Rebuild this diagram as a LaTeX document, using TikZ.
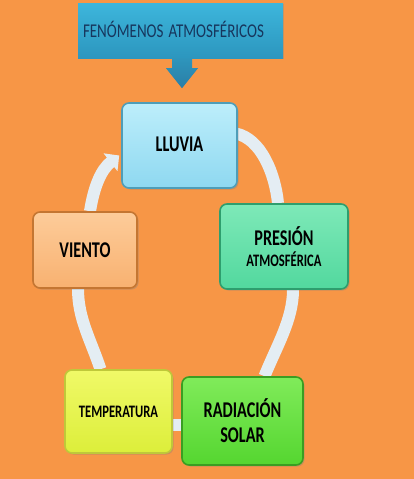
\documentclass[tikz,border=0pt]{standalone}
\usepackage{fontspec}
\setmainfont{Carlito}
\usetikzlibrary{arrows.meta,calc,shadows}
\pgfdeclarelayer{bg}
\pgfsetlayers{bg,main}
\newcommand{\hsq}[2][0.72]{\scalebox{#1}[1]{#2}}
\definecolor{bgc}{HTML}{F79646}
\definecolor{titleT}{HTML}{3DB6DC}
\definecolor{titleB}{HTML}{2C96BE}
\definecolor{arrT}{HTML}{2E95BC}
\definecolor{arrB}{HTML}{2A7EA6}
\definecolor{titletext}{HTML}{17365D}
\definecolor{ringc}{HTML}{E4EDF3}
\definecolor{lluT}{HTML}{BDEEFB}
\definecolor{lluB}{HTML}{8ED8F0}
\definecolor{lluD}{HTML}{4E9DB8}
\definecolor{preT}{HTML}{7EE9B8}
\definecolor{preB}{HTML}{52D89E}
\definecolor{preD}{HTML}{2E9E6E}
\definecolor{vieT}{HTML}{FDCC9A}
\definecolor{vieB}{HTML}{F8B170}
\definecolor{vieD}{HTML}{C47632}
\definecolor{temT}{HTML}{F0F968}
\definecolor{temB}{HTML}{DCEE3A}
\definecolor{temD}{HTML}{BFC83A}
\definecolor{radT}{HTML}{80EB5A}
\definecolor{radB}{HTML}{55D630}
\definecolor{radD}{HTML}{3A9E22}
\tikzset{
  box/.style={rectangle, rounded corners=7pt, line width=1.6pt, align=center,
    text=black, inner sep=2pt,
    drop shadow={opacity=0.35, shadow xshift=1.5pt, shadow yshift=-1.5pt}},
  ring/.style={line width=12pt, draw=ringc},
  titlebox/.style={rectangle, top color=titleT, bottom color=titleB, text=titletext,
    align=left, inner xsep=5pt, inner ysep=0pt,
    drop shadow={opacity=0.25, shadow xshift=1pt, shadow yshift=-1pt}},
}
\begin{document}
\begin{tikzpicture}[x=1pt,y=-1pt]
\useasboundingbox (0,0) rectangle (414,479);
\begin{pgfonlayer}{bg}
\fill[bgc] (0,0) rectangle (414,479);
\end{pgfonlayer}

\node[titlebox, text width=195pt, minimum height=55pt, font=\fontsize{19.5}{22}\selectfont] (title) at (180.5,30.5)
  {\raisebox{3pt}{\hsq[0.77]{FENÓMENOS ATMOSFÉRICOS}}};
\shade[top color=arrT, bottom color=arrB]
  ($(title.south)+(-8.5,0)$) -- ($(title.south)+(11.5,0)$) -- ($(title.south)+(11.5,10)$)
  -- ($(title.south)+(17.5,10)$) -- ($(title.south)+(1.5,30)$) -- ($(title.south)+(-14.5,10)$)
  -- ($(title.south)+(-8.5,10)$) -- cycle;

\node[box, draw=lluD, top color=lluT, bottom color=lluB, minimum width=115pt, minimum height=85pt,
  font=\bfseries\fontsize{22.5}{26}\selectfont]
  (lluvia) at (179.5,145.5) {\raisebox{2pt}{\hsq{LLUVIA}}};
\node[box, draw=preD, top color=preT, bottom color=preB, minimum width=128pt, minimum height=85pt,
  font=\bfseries\fontsize{17.5}{20}\selectfont]
  (presion) at (284,246.5) {{\fontsize{22.5}{26}\selectfont\hsq{PRESIÓN}}\\[1pt]\hsq{ATMOSFÉRICA}};
\node[box, draw=vieD, top color=vieT, bottom color=vieB, minimum width=104pt, minimum height=76pt,
  font=\bfseries\fontsize{22.5}{26}\selectfont]
  (viento) at (85,250) {\hsq{VIENTO}};
\node[box, draw=temD, top color=temT, bottom color=temB, minimum width=107pt, minimum height=83pt,
  font=\bfseries\fontsize{17.5}{20}\selectfont]
  (temperatura) at (118.5,411.5) {\hsq{TEMPERATURA}};
\node[box, draw=radD, top color=radT, bottom color=radB, minimum width=121pt, minimum height=88pt,
  font=\bfseries\fontsize{22.5}{25}\selectfont]
  (radiacion) at (242.5,421) {\hsq{RADIACIÓN}\\\hsq{SOLAR}};

\begin{pgfonlayer}{bg}
\draw[ring, -{Triangle[width=22pt,length=11pt]}]
  ($(viento.north)+(5,0)$) .. controls +(4,-25) and +(-18,14) .. ($(lluvia.west)+(-2,10)$);
\draw[ring] ($(lluvia.east)+(-2,-12)$) .. controls +(25,5) and +(-3,-30) .. ($(presion.north)+(-6,0)$);
\draw[ring] ($(presion.south)+(9,0)$) .. controls +(0,30) and +(12,-30) .. ($(radiacion.north)+(22,0)$);
\draw[ring] ($(radiacion.west)+(2,4)$) -- ($(temperatura.east)+(-2,13.5)$);
\draw[ring] ($(temperatura.north)+(-18,0)$) .. controls +(-10,-30) and +(0,30) .. ($(viento.south)+(-7,0)$);
\end{pgfonlayer}
\end{tikzpicture}
\end{document}
